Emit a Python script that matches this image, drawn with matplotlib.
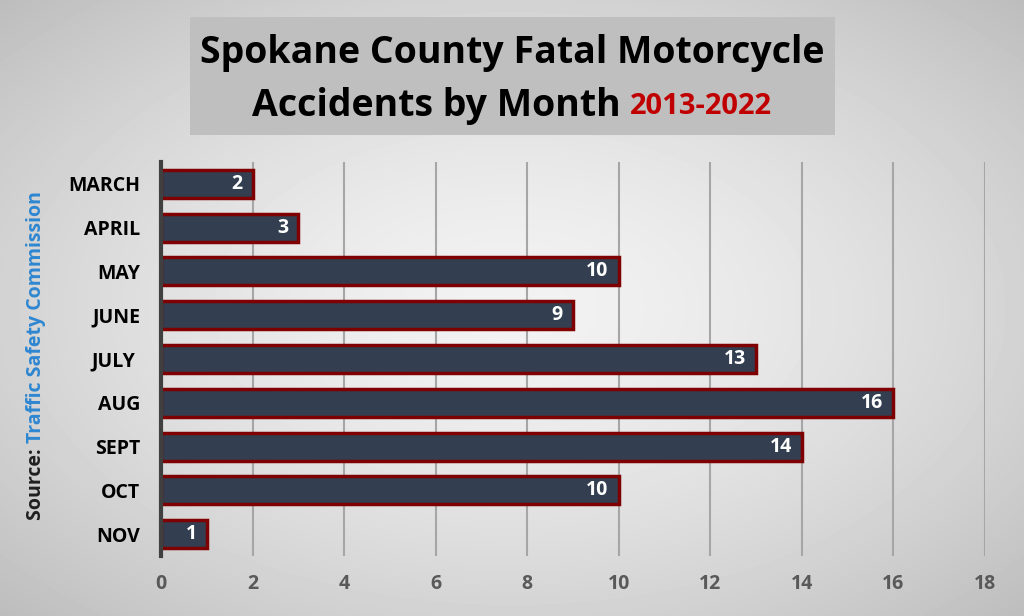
import matplotlib.pyplot as plt
import numpy as np

months = ['MARCH', 'APRIL', 'MAY', 'JUNE', 'JULY ', 'AUG', 'SEPT', 'OCT', 'NOV']
deaths = [2, 3, 10, 9, 13, 16, 14, 10, 1]
xticks = [0, 2, 4, 6, 8, 10, 12, 14, 16, 18]

W, H = 1024, 616
fig = plt.figure(figsize=(W / 100, H / 100), dpi=100)

# radial gray background
yy, xx = np.mgrid[0:H, 0:W]
r = np.sqrt(((xx - W / 2) / (W / 2)) ** 2 + ((yy - H / 2) / (H / 2)) ** 2) / np.sqrt(2)
shade = 0.95 - 0.21 * r ** 1.5
bg = fig.add_axes([0, 0, 1, 1], zorder=-10)
bg.imshow(shade, cmap='gray', vmin=0, vmax=1, aspect='auto', extent=[0, 1, 0, 1])
bg.axis('off')

# title box
fig.patches.append(plt.Rectangle((190 / W, 1 - 135 / H), 645 / W, 118 / H,
                                 transform=fig.transFigure, facecolor='#bfbfbf',
                                 edgecolor='none', zorder=0))
fig.text(512 / W, 1 - 53 / H, 'Spokane County Fatal Motorcycle', ha='center', va='center',
         fontsize=27, family='Open Sans', fontweight='bold', color='black')
t1 = fig.text(190 / W, 1 - 106 / H, 'Accidents by Month ', ha='left', va='center',
              fontsize=27, family='Open Sans', fontweight='bold', color='black')
t2 = fig.text(0, 1 - 106 / H, '2013-2022', ha='left', va='center',
              fontsize=21, family='Open Sans', fontweight='bold', color='#c00000')
fig.canvas.draw()
rend = fig.canvas.get_renderer()
w1 = t1.get_window_extent(rend).width
w2 = t2.get_window_extent(rend).width
start = 512 - (w1 + w2) / 2
t1.set_x(start / W)
t2.set_x((start + w1) / W)

ax = fig.add_axes([161 / W, 1 - 556 / H, 824 / W, 394 / H])
ax.set_facecolor('none')
y = np.arange(len(months))
ax.barh(y, deaths, height=0.64, color='#333f50', edgecolor='#7f0000', linewidth=2.5, zorder=3)
for yi, v in zip(y, deaths):
    ax.text(v - 0.22, yi, str(v), ha='right', va='center', color='white',
            fontsize=14, fontweight='bold', family='Open Sans', zorder=4)
ax.set_xlim(0, 18)
ax.set_ylim(len(months) - 0.5, -0.5)
ax.set_xticks(xticks)
ax.set_yticks(y)
ax.set_yticklabels(months, fontsize=14, fontweight='bold', family='Open Sans', color='black')
ax.set_xticklabels([str(t) for t in xticks], fontsize=14, fontweight='bold',
                   family='Open Sans', color='#595959')
ax.tick_params(axis='both', length=0)
ax.tick_params(axis='x', pad=13)
ax.tick_params(axis='y', pad=15)
ax.grid(axis='x', color='#a6a6a6', linewidth=1.5, zorder=0)
for s in ['top', 'right', 'bottom']:
    ax.spines[s].set_visible(False)
ax.spines['left'].set_color('#404040')
ax.spines['left'].set_linewidth(3)
ax.spines['left'].set_zorder(5)

# rotated source text
s1 = fig.text(36 / W, 1 - 520 / H, 'Source: ', rotation=90, ha='center', va='bottom',
              fontsize=14, fontweight='bold', family='Open Sans', color='#1f1f1f')
fig.canvas.draw()
h1 = s1.get_window_extent(fig.canvas.get_renderer()).height
fig.text(36 / W, 1 - 520 / H + h1 / H, 'Traffic Safety Commission', rotation=90,
         ha='center', va='bottom', fontsize=14, fontweight='bold', family='Open Sans',
         color='#2e86d1')

fig.savefig('out.png', dpi=100)
